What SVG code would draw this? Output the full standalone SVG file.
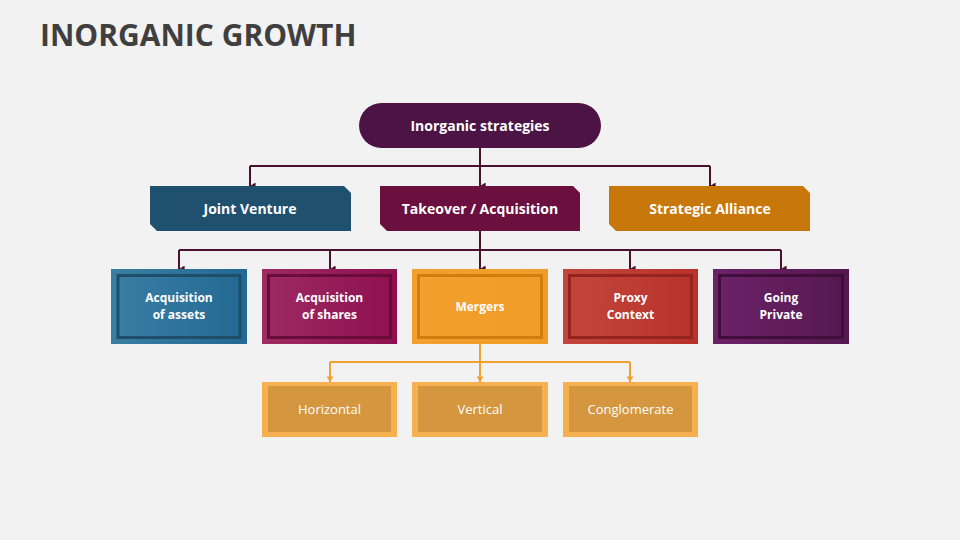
<svg xmlns="http://www.w3.org/2000/svg" width="960" height="540" viewBox="0 0 960 540">
<defs>
<linearGradient id="gb"><stop offset="0" stop-color="#3B7EA3"/><stop offset="1" stop-color="#226993"/></linearGradient>
<linearGradient id="gs"><stop offset="0" stop-color="#9E2B62"/><stop offset="1" stop-color="#8E1050"/></linearGradient>
<linearGradient id="gm"><stop offset="0" stop-color="#F2A02E"/><stop offset="1" stop-color="#F09C28"/></linearGradient>
<linearGradient id="gp"><stop offset="0" stop-color="#C2463C"/><stop offset="1" stop-color="#B8322A"/></linearGradient>
<linearGradient id="gg"><stop offset="0" stop-color="#6C2268"/><stop offset="1" stop-color="#561850"/></linearGradient>
<marker id="ad" viewBox="0 0 10 10" refX="5" refY="10" markerWidth="7" markerHeight="7" orient="auto-start-reverse" markerUnits="userSpaceOnUse"><path d="M0 2 L10 2 L5 10 Z" fill="#4A1030"/></marker>
<marker id="ao" viewBox="0 0 10 10" refX="5" refY="10" markerWidth="7" markerHeight="7" markerUnits="userSpaceOnUse"><path d="M0 2 L10 2 L5 10 Z" fill="#F2A02E"/></marker>
</defs>
<style>
text{font-family:"Open Sans","Liberation Sans",sans-serif;font-weight:bold;fill:#fff;text-anchor:middle}
.t{font-size:14px}.s{font-size:12px}.l{font-size:13px;font-weight:normal}
.dk{stroke:#4A1030;stroke-width:2;fill:none}
.or{stroke:#F2A02E;stroke-width:2;fill:none}
.in{fill:none;stroke-width:3}
</style>
<rect width="960" height="540" fill="#F2F2F2"/>
<text x="40" y="46" style="font-size:30px;fill:#3F3F3F;text-anchor:start">INORGANIC GROWTH</text>
<g id="connectors">
<path class="dk" d="M480 148 V166 M250 166 H710"/>
<path class="dk" d="M250 166 V186" marker-end="url(#ad)"/>
<path class="dk" d="M480 166 V186" marker-end="url(#ad)"/>
<path class="dk" d="M710 166 V186" marker-end="url(#ad)"/>
<path class="dk" d="M480 231 V250 M179 250 H781"/>
<path class="dk" d="M179 250 V269" marker-end="url(#ad)"/>
<path class="dk" d="M330 250 V269" marker-end="url(#ad)"/>
<path class="dk" d="M480 250 V269" marker-end="url(#ad)"/>
<path class="dk" d="M630 250 V269" marker-end="url(#ad)"/>
<path class="dk" d="M781 250 V269" marker-end="url(#ad)"/>
<path class="or" d="M480 344 V362 M330 362 H630"/>
<path class="or" d="M330 362 V382" marker-end="url(#ao)"/>
<path class="or" d="M480 362 V382" marker-end="url(#ao)"/>
<path class="or" d="M630 362 V382" marker-end="url(#ao)"/>
</g>
<g id="root"><rect x="359" y="103" width="242" height="45" rx="22.5" fill="#4B1444"/><text class="t" x="480" y="131">Inorganic strategies</text></g>
<g id="jv"><path d="M150 186 H344 L351 193 V231 H157 L150 224 Z" fill="#1F516F"/><text class="t" x="250" y="214">Joint Venture</text></g>
<g id="ta"><path d="M380 186 H573 L580 193 V231 H387 L380 224 Z" fill="#6B0F3E"/><text class="t" x="480" y="214">Takeover / Acquisition</text></g>
<g id="sa"><path d="M609 186 H803 L810 193 V231 H616 L609 224 Z" fill="#C8780B"/><text class="t" x="710" y="214">Strategic Alliance</text></g>
<g id="aa"><rect x="111" y="269" width="136" height="75" fill="url(#gb)"/><rect class="in" x="118" y="275.5" width="122" height="62" stroke="#1E4E6A"/><text class="s" x="179" y="302">Acquisition</text><text class="s" x="179" y="319">of assets</text></g>
<g id="as"><rect x="262" y="269" width="135" height="75" fill="url(#gs)"/><rect class="in" x="268.5" y="275.5" width="122" height="62" stroke="#6A0C3A"/><text class="s" x="329.5" y="302">Acquisition</text><text class="s" x="329.5" y="319">of shares</text></g>
<g id="me"><rect x="412" y="269" width="136" height="75" fill="url(#gm)"/><rect class="in" x="418.5" y="275.5" width="123" height="62" stroke="#D07D10"/><text class="s" x="480" y="311">Mergers</text></g>
<g id="pc"><rect x="563" y="269" width="135" height="75" fill="url(#gp)"/><rect class="in" x="569.5" y="275.5" width="122" height="62" stroke="#952420"/><text class="s" x="630.5" y="302">Proxy</text><text class="s" x="630.5" y="319">Context</text></g>
<g id="gp"><rect x="713" y="269" width="136" height="75" fill="url(#gg)"/><rect class="in" x="719.5" y="275.5" width="123" height="62" stroke="#3F0E3A"/><text class="s" x="781" y="302">Going</text><text class="s" x="781" y="319">Private</text></g>
<g id="ho"><rect x="262" y="382" width="135" height="55" fill="#F7B04F"/><rect x="268" y="386" width="123" height="46" fill="#D4963F"/><text class="l" x="329.5" y="414">Horizontal</text></g>
<g id="ve"><rect x="412" y="382" width="136" height="55" fill="#F7B04F"/><rect x="418" y="386" width="124" height="46" fill="#D4963F"/><text class="l" x="480" y="414">Vertical</text></g>
<g id="co"><rect x="563" y="382" width="135" height="55" fill="#F7B04F"/><rect x="569" y="386" width="123" height="46" fill="#D4963F"/><text class="l" x="630.5" y="414">Conglomerate</text></g>
</svg>
